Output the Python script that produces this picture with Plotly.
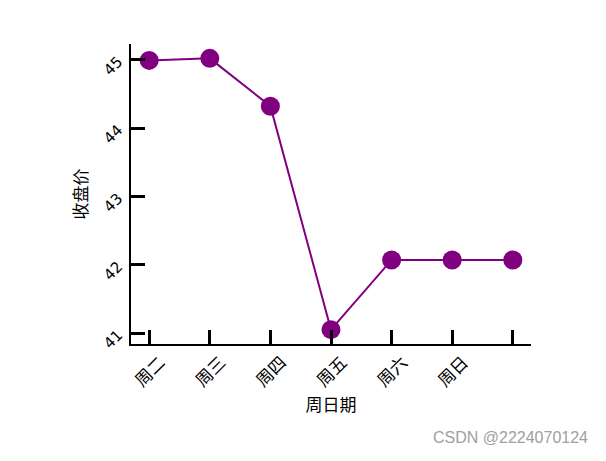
import plotly.graph_objects as go

days = ["周二", "周三", "周四", "周五", "周六", "周日", ""]
close = [44.99, 45.02, 44.32, 41.05, 42.07, 42.07, 42.07]
y_ticks = [41, 42, 43, 44, 45]

x_idx = list(range(len(days)))

fig = go.Figure()
fig.add_trace(go.Scatter(
    x=x_idx, y=close, mode="lines+markers",
    line=dict(color="#800080", width=2),
    marker=dict(color="#800080", size=19),
    showlegend=False,
))

font_main = "DejaVu Sans, Noto Sans CJK SC"
fig.update_layout(
    width=598, height=453,
    margin=dict(l=123, r=75, t=36, b=117),
    paper_bgcolor="white", plot_bgcolor="white",
    font=dict(family=font_main, color="black", size=14),
    xaxis=dict(
        range=[-0.3, 6.3], tickmode="array", tickvals=x_idx, ticktext=days,
        tickangle=-45, ticks="inside", ticklen=14, tickwidth=3, tickcolor="black",
        showline=True, linecolor="black", linewidth=1.5, showgrid=False, zeroline=False,
        tickfont=dict(size=17, family="Noto Sans CJK SC"),
        ticklabelshift=11, ticklabelstandoff=0,
        title=dict(text="周日期", font=dict(size=17, family="Noto Sans CJK SC"), standoff=3),
        automargin=False,
    ),
    yaxis=dict(
        range=[40.84, 45.23], tickmode="array", tickvals=y_ticks,
        ticktext=[str(v) for v in y_ticks],
        tickangle=-45, ticks="inside", ticklen=14, tickwidth=3, tickcolor="black",
        showline=True, linecolor="black", linewidth=1.5, showgrid=False, zeroline=False,
        tickfont=dict(size=15), ticklabelstandoff=8,
        title=dict(text="收盘价", font=dict(size=17, family="Noto Sans CJK SC"), standoff=8),
        automargin=False,
    ),
    annotations=[dict(
        text="CSDN @2224070124", xref="paper", yref="paper",
        x=1.0, y=0, xshift=59, yshift=-93, xanchor="right", yanchor="middle",
        showarrow=False, font=dict(size=16, color="#a0a0a0", family="Liberation Sans, Arial"),
    )],
)

fig.write_html("out.html")
